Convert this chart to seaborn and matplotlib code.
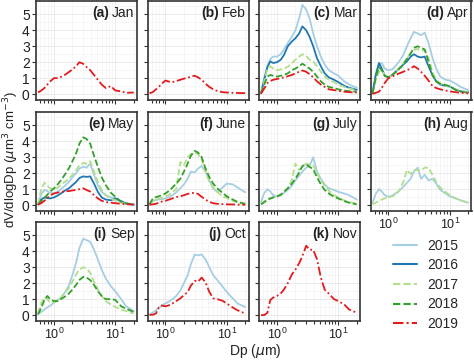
import pandas as pd
import matplotlib
matplotlib.use("Agg")
import matplotlib.pyplot as plt
import seaborn as sns
from matplotlib.lines import Line2D
from matplotlib.ticker import LogLocator, MultipleLocator, NullFormatter

# particle diameter grid (um)
dp = [0.55, 0.62, 0.7, 0.78, 0.87, 1.0, 1.15, 1.3, 1.5, 1.75, 2.0, 2.3, 2.6,
      3.0, 3.4, 3.9, 4.5, 5.2, 6.0, 7.0, 8.5, 10, 12.5, 15, 20]

# dV/dlogDp per month and year
jan = {2019: [0.1, 0.22, 0.38, 0.6, 0.8, 1.0, 1.0, 1.08, 1.2, 1.38, 1.55, 1.75, 2.0,
              1.9, 1.7, 1.5, 1.2, 0.9, 0.6, 0.38, 0.5, 0.23, 0.17, 0.08, 0.1]}
feb = {2019: [0.05, 0.12, 0.3, 0.45, 0.65, 0.85, 0.78, 0.75, 0.82, 0.9, 0.97, 1.02, 1.1,
              1.15, 1.05, 0.9, 0.65, 0.45, 0.3, 0.2, 0.12, 0.1, 0.08, 0.07, 0.06]}
mar = {
    2015: [0.05, 1.0, 1.8, 2.2, 2.35, 2.35, 2.5, 2.8, 3.2, 3.6, 4.0, 4.75, 5.6,
           5.3, 4.75, 3.8, 3.0, 2.35, 1.85, 1.5, 1.3, 1.15, 0.8, 0.6, 0.4],
    2016: [0.05, 0.9, 1.7, 2.05, 1.95, 2.0, 2.15, 2.45, 3.0, 3.3, 3.5, 3.8, 4.25,
           4.0, 3.6, 3.0, 2.25, 1.75, 1.3, 1.05, 0.9, 0.75, 0.52, 0.4, 0.27],
    2017: [0.05, 0.8, 1.6, 1.75, 1.6, 1.5, 1.55, 1.6, 1.7, 1.95, 2.15, 2.35, 2.5,
           2.4, 2.15, 2.05, 1.75, 1.4, 1.1, 0.9, 0.75, 0.6, 0.45, 0.35, 0.25],
    2018: [0.05, 0.6, 1.1, 1.2, 1.15, 1.1, 1.15, 1.2, 1.3, 1.5, 1.6, 1.75, 1.9,
           1.75, 1.6, 1.4, 1.1, 0.8, 0.6, 0.45, 0.38, 0.3, 0.22, 0.18, 0.15],
    2019: [0.03, 0.35, 0.7, 0.82, 0.9, 0.95, 1.0, 1.05, 1.12, 1.2, 1.3, 1.4, 1.48,
           1.4, 1.25, 1.05, 0.8, 0.6, 0.45, 0.3, 0.25, 0.2, 0.15, 0.12, 0.1],
}
apr = {
    2015: [0.05, 1.1, 1.85, 1.95, 1.6, 1.5, 1.55, 1.75, 2.05, 2.45, 3.0, 3.5, 3.9,
           3.8, 3.7, 3.85, 3.2, 2.3, 1.6, 1.1, 0.9, 0.85, 0.65, 0.45, 0.25],
    2016: [0.05, 1.2, 1.95, 1.6, 1.15, 1.05, 1.2, 1.4, 1.6, 1.85, 2.05, 2.35, 2.5,
           2.35, 2.3, 2.35, 1.75, 1.2, 0.8, 0.6, 0.52, 0.48, 0.27, 0.18, 0.12],
    2017: [0.05, 0.9, 1.4, 1.45, 1.2, 1.05, 1.2, 1.4, 1.65, 1.95, 2.25, 2.55, 2.75,
           2.85, 2.7, 2.75, 2.25, 1.4, 0.9, 0.65, 0.52, 0.48, 0.3, 0.2, 0.1],
    2018: [0.05, 1.0, 1.7, 1.5, 1.15, 1.05, 1.2, 1.35, 1.6, 1.85, 2.2, 2.55, 2.9,
           3.0, 2.9, 2.8, 2.05, 1.2, 0.8, 0.65, 0.58, 0.48, 0.27, 0.15, 0.08],
    2019: [0.02, 0.08, 0.15, 0.4, 0.7, 1.0, 1.1, 1.2, 1.3, 1.4, 1.5, 1.6, 1.75,
           1.6, 1.4, 1.15, 0.85, 0.52, 0.38, 0.3, 0.23, 0.17, 0.12, 0.08, 0.05],
}
may = {
    2015: [0.05, 0.7, 0.95, 0.88, 0.77, 0.73, 0.85, 1.0, 1.2, 1.45, 1.75, 2.0, 2.3,
           2.4, 2.35, 2.6, 1.9, 1.25, 0.83, 0.62, 0.48, 0.42, 0.2, 0.12, 0.05],
    2016: [0.05, 0.35, 0.48, 0.44, 0.42, 0.48, 0.6, 0.73, 0.9, 1.05, 1.25, 1.45, 1.7,
           1.8, 1.77, 1.8, 1.35, 0.83, 0.48, 0.35, 0.3, 0.42, 0.25, 0.1, 0.03],
    2017: [0.05, 1.0, 1.4, 1.2, 1.05, 1.0, 1.1, 1.25, 1.45, 1.65, 1.9, 2.2, 2.5,
           2.65, 2.6, 2.75, 2.1, 1.45, 0.95, 0.62, 0.42, 0.3, 0.15, 0.08, 0.03],
    2018: [0.05, 0.25, 0.45, 0.65, 0.85, 1.05, 1.3, 1.55, 1.9, 2.3, 2.75, 3.25, 3.85,
           4.25, 4.15, 3.85, 3.1, 2.4, 1.75, 1.25, 0.77, 0.52, 0.2, 0.1, 0.03],
    2019: [0.02, 0.12, 0.27, 0.45, 0.6, 0.73, 0.78, 0.83, 0.86, 0.88, 0.92, 0.95, 1.0,
           1.05, 0.95, 0.85, 0.62, 0.42, 0.27, 0.19, 0.15, 0.12, 0.08, 0.06, 0.03],
}
jun = {
    2015: [0.05, 0.25, 0.32, 0.35, 0.38, 0.42, 0.5, 0.62, 0.8, 1.05, 1.3, 1.65, 2.1,
           2.05, 2.3, 2.45, 2.1, 1.55, 1.05, 0.83, 1.1, 1.35, 1.3, 1.1, 0.8],
    2017: [0.05, 0.25, 0.35, 0.4, 0.45, 0.55, 0.65, 0.8, 1.0, 2.7, 2.5, 3.0, 3.2,
           3.3, 3.2, 2.85, 2.1, 1.45, 1.1, 0.83, 0.55, 0.45, 0.27, 0.15, 0.05],
    2018: [0.05, 0.4, 0.5, 0.55, 0.62, 0.73, 0.9, 1.1, 1.35, 1.65, 2.1, 2.6, 3.1,
           3.4, 3.3, 3.0, 2.3, 1.75, 1.35, 1.05, 0.77, 0.55, 0.35, 0.2, 0.08],
    2019: [0.02, 0.05, 0.08, 0.15, 0.22, 0.27, 0.35, 0.42, 0.5, 0.55, 0.62, 0.7, 0.75,
           0.77, 0.7, 0.52, 0.35, 0.2, 0.12, 0.08, 0.06, 0.05, 0.04, 0.03, 0.02],
}
jul = {
    2015: [0.2, 0.75, 1.0, 0.85, 0.62, 0.52, 0.6, 0.77, 0.95, 1.2, 1.55, 1.85, 2.1,
           2.35, 2.45, 3.0, 2.1, 1.65, 1.3, 1.05, 0.95, 0.83, 0.73, 0.62, 0.35],
    2017: [0.05, 0.15, 0.3, 0.4, 0.48, 0.55, 0.65, 0.83, 1.05, 1.6, 2.6, 2.2, 2.4,
           2.6, 2.55, 2.5, 2.0, 1.55, 1.2, 0.9, 0.62, 0.48, 0.3, 0.2, 0.08],
    2018: [0.05, 0.2, 0.35, 0.42, 0.48, 0.55, 0.65, 0.83, 1.05, 1.35, 1.65, 2.05, 2.45,
           2.55, 2.4, 2.25, 1.75, 1.3, 0.95, 0.73, 0.52, 0.42, 0.25, 0.15, 0.05],
}
aug = {
    2015: [0.15, 0.7, 1.0, 0.85, 0.62, 0.52, 0.6, 0.73, 0.9, 1.15, 1.4, 1.65, 2.1,
           2.35, 1.65, 1.9, 1.55, 1.65, 1.35, 0.95, 0.73, 0.55, 0.42, 0.3, 0.15],
    2017: [0.05, 0.15, 0.27, 0.35, 0.42, 0.48, 0.55, 0.65, 0.9, 1.45, 2.2, 1.95, 2.2,
           2.2, 2.15, 2.35, 2.35, 1.9, 1.45, 1.1, 0.83, 0.62, 0.42, 0.3, 0.15],
}
sep = {
    2015: [0.05, 0.2, 0.35, 0.48, 0.6, 0.77, 0.95, 1.1, 1.4, 1.85, 2.5, 3.3, 4.2,
           4.8, 4.7, 4.6, 4.1, 3.5, 2.85, 2.3, 1.8, 1.5, 1.0, 0.55, 0.25],
    2017: [0.1, 0.75, 1.1, 1.0, 0.77, 0.8, 0.9, 1.1, 1.4, 1.7, 2.1, 2.55, 2.85,
           3.0, 2.95, 2.65, 2.1, 1.6, 1.2, 0.88, 0.67, 0.52, 0.35, 0.25, 0.1],
    2018: [0.05, 0.45, 0.95, 1.2, 1.0, 0.88, 0.88, 1.0, 1.15, 1.35, 1.6, 1.9, 2.2,
           2.4, 2.35, 2.2, 1.9, 1.5, 1.2, 1.0, 1.0, 0.95, 0.55, 0.4, 0.2],
}
oct_ = {
    2015: [0.02, 0.15, 0.3, 0.45, 0.6, 0.73, 0.85, 1.0, 1.2, 1.55, 2.0, 2.5, 3.2,
           3.8, 3.75, 3.8, 3.5, 3.0, 2.5, 2.2, 1.8, 1.45, 1.05, 0.73, 0.5],
    2019: [0.02, 0.02, 0.1, 0.48, 0.6, 0.55, 0.62, 0.73, 0.88, 1.05, 1.25, 1.45, 1.85,
           2.15, 2.1, 2.35, 2.05, 1.45, 1.05, 1.0, 0.9, 0.73, 0.48, 0.3, 0.1],
}
nov = {2019: [0.0, 0.0, 0.15, 0.95, 1.1, 1.2, 1.35, 1.6, 2.0, 2.55, 2.85, 3.25, 3.7,
              4.35, 4.1, 4.1, 3.5, 2.35, 1.6, 1.35, 1.0, 0.88, 0.67, 0.35, 0.15]}

months = ["Jan", "Feb", "Mar", "Apr", "May", "June", "July", "Aug", "Sep", "Oct", "Nov"]
letters = ["a", "b", "c", "d", "e", "f", "g", "h", "i", "j", "k"]
month_data = [jan, feb, mar, apr, may, jun, jul, aug, sep, oct_, nov]

years = ["2015", "2016", "2017", "2018", "2019"]
colors = ["#a6cee3", "#1f78b4", "#b2df8a", "#33a02c", "#e31a1c"]
dash_styles = ["", "", (3.5, 1.5), (3.5, 1.5), (5, 1.5, 1, 1.5)]
palette = dict(zip(years, colors))
dashes = dict(zip(years, dash_styles))

rows = []
for m, d in zip(months, month_data):
    for yr, vals in d.items():
        for x, v in zip(dp, vals):
            rows.append((m, str(yr), x, v))
df = pd.DataFrame(rows, columns=["month", "year", "dp", "dv"])

sns.set_theme(style="whitegrid")
plt.rcParams["font.family"] = ["Liberation Sans", "DejaVu Sans"]
plt.rcParams["mathtext.fontset"] = "dejavusans"

W, H = 474, 362
fig = plt.figure(figsize=(W / 100, H / 100), dpi=100)
lefts = [36, 147.5, 259, 370.5]
tops = [0.5, 111.5, 221.5]
pw, ph = 101, 99.5

axes = []
for i, m in enumerate(months):
    r, c = divmod(i, 4)
    ax = fig.add_axes([lefts[c] / W, 1 - (tops[r] + ph) / H, pw / W, ph / H])
    sub = df[df["month"] == m]
    sns.lineplot(data=sub, x="dp", y="dv", hue="year", style="year",
                 palette=palette, dashes=dashes, linewidth=1.3,
                 legend=False, ax=ax, estimator=None, sort=False)
    ax.set_xscale("log")
    ax.set_xlim(0.51, 22.6)
    ax.set_ylim(-0.37, 5.87)
    ax.set_yticks(range(6))
    ax.xaxis.set_minor_locator(LogLocator(base=10, subs=range(2, 10)))
    ax.xaxis.set_minor_formatter(NullFormatter())
    ax.yaxis.set_minor_locator(MultipleLocator(0.5))
    ax.set_xlabel("")
    ax.set_ylabel("")
    ax.grid(True, which="major", color="#e8e8e8", linewidth=0.6)
    ax.grid(True, which="minor", color="#f3f3f3", linewidth=0.5)
    for s in ax.spines.values():
        s.set_color("#333333")
        s.set_linewidth(1.2)
    ax.tick_params(axis="both", which="both", bottom=True, left=True,
                   direction="out", color="#333333", width=0.8,
                   labelsize=10, pad=1.5, labelcolor="#222222")
    ax.tick_params(axis="x", labelsize=9, pad=1)
    ax.tick_params(axis="both", which="major", length=3)
    ax.tick_params(axis="x", which="minor", length=1.8)
    ax.tick_params(axis="y", which="minor", length=0)
    if c != 0:
        ax.tick_params(labelleft=False)
    if i < 7:
        ax.tick_params(labelbottom=False)
    axes.append(ax)

# panel tags: bold letter + month name, top right inside
fig.canvas.draw()
renderer = fig.canvas.get_renderer()
for ax, m, l in zip(axes, months, letters):
    t = ax.text(0.975, 0.875, m, transform=ax.transAxes, ha="right", va="center",
                fontsize=10, color="#222222")
    bb = t.get_window_extent(renderer=renderer)
    x0 = ax.transAxes.inverted().transform((bb.x0 - 3, bb.y0))[0]
    ax.text(x0, 0.875, "(%s)" % l, transform=ax.transAxes, ha="right", va="center",
            fontsize=10, fontweight="bold", color="#222222")

fig.text(0.024, 0.56, r"dV/dlogDp ($\mu$m$^3$ cm$^{-3}$)", rotation=90,
         ha="center", va="center", fontsize=9.5, color="#222222")
fig.text(255 / W, 2 / H, r"Dp ($\mu$m)", ha="center", va="bottom",
         fontsize=10, color="#222222")

handles = [Line2D([], [], color=col, linewidth=1.5,
                  linestyle="-" if ds == "" else (0, ds))
           for col, ds in zip(colors, dash_styles)]
fig.legend(handles, years, loc="upper left", bbox_to_anchor=(390 / W, 1 - 236 / H),
           frameon=False, fontsize=10, handlelength=1.75, handletextpad=0.75,
           labelspacing=0.4, borderaxespad=0, borderpad=0.2)

fig.savefig("out.png", dpi=100)
